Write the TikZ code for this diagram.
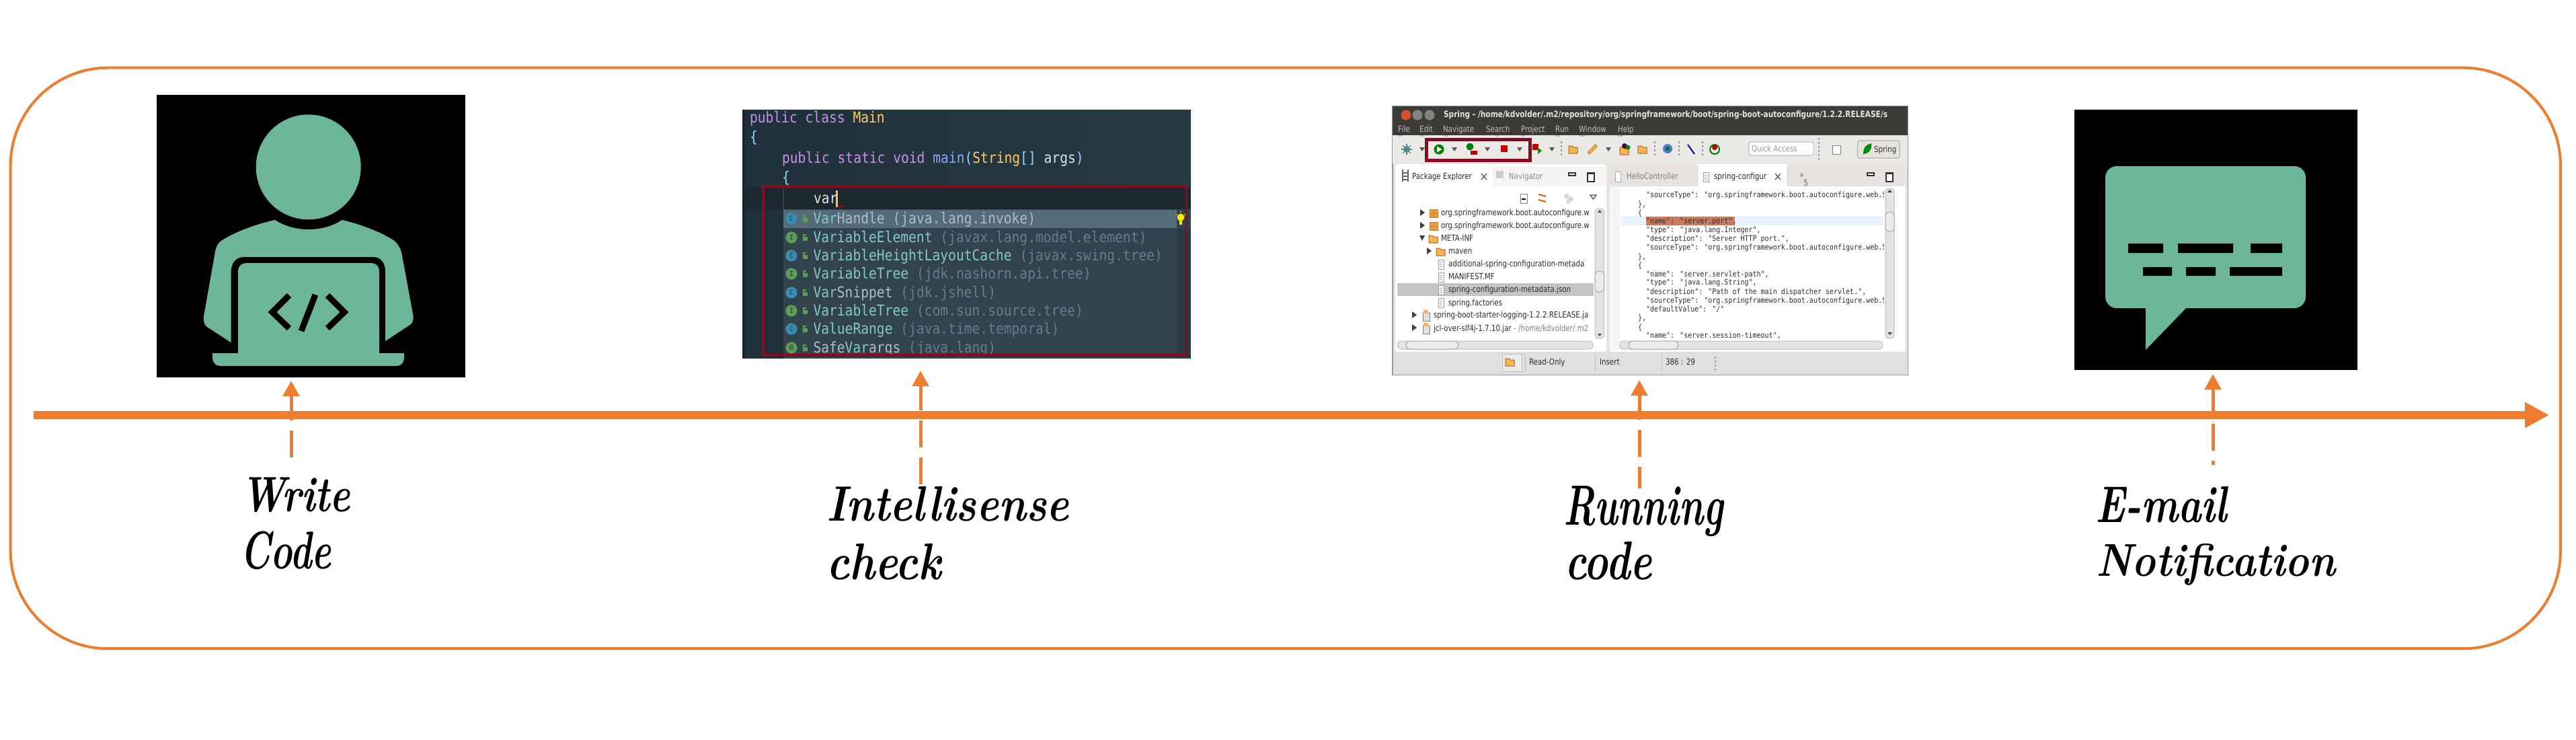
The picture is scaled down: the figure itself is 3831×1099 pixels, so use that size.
\documentclass[tikz,border=0pt]{standalone}
\usepackage{fontspec}
\usepackage{graphicx}
\usetikzlibrary{arrows.meta}
\setmainfont{Latin Modern Roman}
\newfontfamily\monof{DejaVu Sans Mono}
\newfontfamily\sansf{DejaVu Sans}
\newcommand\pxf[1]{\fontsize{\fpeval{#1*0.28453}pt}{\fpeval{#1*0.34}pt}\selectfont}
\newcounter{tn}
\newcommand\T[4][]{\stepcounter{tn}\node[tx,#1] (t\thetn) at (#2,#3) {\scalebox{1}[1.22]{#4}};}
\newcommand\TS[4][]{\stepcounter{tn}\node[tx,#1] (t\thetn) at (#2,#3) {\scalebox{1}[1.14]{#4}};}
\newlength\pxu \setlength\pxu{0.01cm}
\definecolor{orng}{HTML}{ED7D31}
\definecolor{grn}{HTML}{6DB697}
\definecolor{crim}{HTML}{8B0A22}
\definecolor{ijbg}{HTML}{20303A}
\definecolor{ijbgr}{HTML}{263A42}
\definecolor{ijpop}{HTML}{33434D}
\definecolor{ijsel}{HTML}{546B78}
\definecolor{ijline}{HTML}{1C2830}
\definecolor{kw}{HTML}{C792EA}
\definecolor{ty}{HTML}{FFCB6B}
\definecolor{fn}{HTML}{82AAFF}
\definecolor{cy}{HTML}{89DDFF}
\definecolor{wh}{HTML}{DCE6E8}
\definecolor{tl}{HTML}{80CBC4}
\definecolor{lt}{HTML}{B0BEC5}
\definecolor{dm}{HTML}{647F8C}
\definecolor{icb}{HTML}{3A8CB0}
\definecolor{icg}{HTML}{5E9D58}
\definecolor{ecl}{HTML}{E6E3DF}
\definecolor{tit}{HTML}{3C3B37}
\definecolor{txd}{HTML}{2E2E2E}
\definecolor{hlrow}{HTML}{E8F2FE}
\definecolor{hlsel}{HTML}{C97C5D}
\definecolor{wbr}{HTML}{D9512C}
\definecolor{wbg}{HTML}{85847C}
\tikzset{
  tx/.style={inner sep=0pt,outer sep=0pt,anchor=base west},
  hand/.style={inner sep=0pt,outer sep=0pt,anchor=north west},
  ij/.style={font=\monof\pxf{19.6},text=wh},
  json/.style={font=\monof\pxf{10},text=txd},
  tree/.style={font=\sansf\pxf{10.3},text=txd},
  ttl/.style={font=\sansf\bfseries\pxf{10.6},text=ecl},
  menu/.style={font=\sansf\pxf{10.3},text=ecl!85!black},
  tip/.style={-{Triangle[length=0.23cm,width=0.24cm]},draw=orng,line width=0.05cm},
  dashy/.style={tip,dash pattern=on 0.4cm off 0.15cm},
  mainarrow/.style={-{Triangle[length=0.36cm,width=0.36cm]},draw=orng,line width=0.12cm},
  icl/.style={inner sep=0pt,font=\monof\pxf{10},text=ijbg},
  sbar/.style={fill=ecl,draw=black!25,line width=0.01cm,rounded corners=0.05cm},
  sthumb/.style={fill=ecl!70!white,draw=black!35,line width=0.01cm,rounded corners=0.06cm},
  sep/.style={draw=black!40,line width=0.015cm,dash pattern=on 0.03cm off 0.03cm},
  block/.style={inner sep=0pt,outer sep=0pt,anchor=north west}
}
% small icon macros (x,y = centre)
\newcommand\fileic[2]{\fill[fill=white,draw=black!45!blue!40!white,line width=0.01cm] (#1-4,#2-7) rectangle (#1+4,#2+7);
  \foreach \d in {-3,0,3}{\draw[black!35,line width=0.01cm] (#1-2,#2+\d) -- (#1+2,#2+\d);}}
\newcommand\foldic[2]{\fill[fill=ty!70!orange,draw=brown!80!black,line width=0.01cm] (#1-7,#2-5) -- (#1-2,#2-5) -- (#1,#2-3) -- (#1+6,#2-3) -- (#1+6,#2+6) -- (#1-7,#2+6) -- cycle;}
\newcommand\pkgic[2]{\fill[fill=ty!50!orange!80!brown,draw=brown,line width=0.01cm] (#1-6,#2-6) rectangle (#1+6,#2+6);
  \draw[brown,line width=0.01cm] (#1-6,#2) -- (#1+6,#2) (#1,#2-6) -- (#1,#2+6);}
\newcommand\jaric[2]{\fill[fill=black!12,draw=black!50,line width=0.01cm] (#1-5,#2-4) rectangle (#1+5,#2+8);
  \fill[ty!70!orange] (#1-4,#2-8) rectangle (#1+3,#2-3);}
\newcommand\trir[2]{\fill[black!75] (#1-3,#2-5) -- (#1+4,#2) -- (#1-3,#2+5) -- cycle;}
\newcommand\trid[2]{\fill[black!75] (#1-4,#2-4) -- (#1+4,#2-4) -- (#1,#2+4) -- cycle;}
\newcommand\drop[2]{\fill[black!65] (#1-4,#2-3) -- (#1+4,#2-3) -- (#1,#2+3) -- cycle;}
\newcommand\popic[3]{\stepcounter{tn}\fill[#2] (1177,#1) circle (8.6);
  \node[icl] (ic\thetn) at (1177,#1) {#3};
  \fill[icg] (1194,#1-1) rectangle (1201,#1+5); \draw[icg,line width=0.012cm] (1195,#1-1) -- (1195,#1-4) -- (1199,#1-4);}
\begin{document}
\begin{tikzpicture}[x=0.01cm,y=-0.01cm]
\useasboundingbox (0,0) rectangle (3831,1099);
\fill[white] (0,0) rectangle (3831,1099);
% outer frame
\node[block,draw=orng,line width=0.04cm,rounded corners=1.45cm,minimum width=37.90cm,minimum height=8.63cm] (frame) at (15.7,100.7) {};
% ---------- person panel
\node[block,fill=black,minimum width=4.59cm,minimum height=4.20cm] (coder) at (233,141) {};
\fill[grn] (458.7,248.3) circle (78);
\fill[grn] (409,327) .. controls (385,332) and (350,344) .. (329,358) .. controls (322,363) and (320,372) .. (319,380)
  -- (303,470) .. controls (302,478) and (304,484) .. (309.5,487) -- (343.6,509) -- (343.6,403)
  .. controls (343.6,390) and (352,382) .. (362.5,382) -- (555,382) .. controls (566,382) and (573,390) .. (573,403)
  -- (573,507) -- (609.6,483) .. controls (614,480) and (615,475) .. (614.6,470) -- (598,380)
  .. controls (597,372) and (593,363) .. (585,357) .. controls (565,344) and (532,332) .. (508.5,327)
  .. controls (495,336) and (478,341) .. (458.7,341) .. controls (440,341) and (423,336) .. (409,327) -- cycle;
\fill[grn] (354,525) -- (354,403) .. controls (354,396) and (359,391) .. (366,391) -- (552,391) .. controls (559,391) and (564,396) .. (564,403)
  -- (564,525) -- (601,525) -- (601,532) .. controls (601,539) and (596,544) .. (590,544) -- (328,544) .. controls (321,544) and (316,539) .. (316,532) -- (316,525) -- cycle;
\draw[black,line width=0.09cm] (430,439) -- (405,464) -- (430,488);
\draw[black,line width=0.09cm] (469,438) -- (448,492);
\draw[black,line width=0.09cm] (487,439) -- (512,464) -- (487,488);
% ---------- IntelliJ panel
\node[block,fill=ijbg,minimum width=6.67cm,minimum height=3.70cm] (ide) at (1104,163) {};
\shade[left color=ijbg,right color=ijbgr] (1104,163) rectangle (1771,279);
\fill[ijline] (1104,279) rectangle (1771,311);
\draw[black!35!ijbg,line width=0.012cm] (1106,163) -- (1106,533);
\draw[ijpop,line width=0.012cm] (1165,279) -- (1165,311);
\fill[ijpop] (1165,311) rectangle (1771,533);
\fill[ijsel] (1165,312) rectangle (1750,339);
\fill[ijpop!85!black] (1750,339) rectangle (1771,533);
\TS[ij]{1115}{182}{\textcolor{kw}{public class }\textcolor{ty}{Main}}
\TS[ij]{1115}{211}{\textcolor{cy}{\{}}
\TS[ij]{1163}{242}{\textcolor{kw}{public static void }\textcolor{fn}{main}\textcolor{cy}{(}\textcolor{ty}{String}\textcolor{cy}{[] }\textcolor{wh}{args}\textcolor{cy}{)}}
\TS[ij]{1163}{271}{\textcolor{cy}{\{}}
\TS[ij]{1210}{302}{var}
\fill[ty!80!orange] (1243,283) rectangle (1246,308);
\draw[red!80!black,line width=0.01cm] (1247,305) -- (1249,308) -- (1251,305) -- (1253,308) -- (1255,306);
\popic{325}{icb}{C}
\popic{353}{icg}{I}
\popic{380}{icb}{C}
\popic{407}{icg}{I}
\popic{435}{icb}{C}
\popic{462}{icg}{I}
\popic{489}{icb}{C}
\popic{517}{icg}{@}
\TS[ij]{1209.5}{332}{\textcolor{tl}{Var}\textcolor{lt}{Handle (java.lang.invoke)}}
\TS[ij]{1209.5}{360}{\textcolor{tl}{VariableElement }\textcolor{dm}{(javax.lang.model.element)}}
\TS[ij]{1209.5}{387}{\textcolor{tl}{VariableHeightLayoutCache }\textcolor{dm}{(javax.swing.tree)}}
\TS[ij]{1209.5}{414}{\textcolor{tl}{VariableTree }\textcolor{dm}{(jdk.nashorn.api.tree)}}
\TS[ij]{1209.5}{442}{\textcolor{tl}{Var}\textcolor{lt}{Snippet }\textcolor{dm}{(jdk.jshell)}}
\TS[ij]{1209.5}{469}{\textcolor{tl}{VariableTree }\textcolor{dm}{(com.sun.source.tree)}}
\TS[ij]{1209.5}{496}{\textcolor{tl}{ValueRange }\textcolor{dm}{(java.time.temporal)}}
\begin{scope}
\clip (1165,505) rectangle (1771,528);
\TS[ij]{1209.5}{524}{\textcolor{lt}{Safe}\textcolor{tl}{Var}\textcolor{lt}{args }\textcolor{dm}{(java.lang)}}
\end{scope}
% bulb
\fill[yellow!90!orange] (1756,323) circle (5.5);
\fill[yellow!90!orange] (1754,327) rectangle (1758,334);
\draw[yellow!90!orange,line width=0.012cm] (1756,314) -- (1756,316) (1749,318) -- (1750,320) (1763,318) -- (1762,320);
\node[block,draw=crim,line width=0.035cm,minimum width=6.29cm,minimum height=2.51cm] (idebox) at (1135,277) {};
% ---------- Eclipse panel
\node[block,fill=ecl,draw=black!40,line width=0.012cm,minimum width=7.66cm,minimum height=3.99cm] (eclipse) at (2071,158) {};
\fill[tit] (2071,158) rectangle (2837,201);
\fill[ecl!80!white] (2071,201) rectangle (2837,243);
\fill[wbr] (2091,171) circle (7.5);
\fill[wbg] (2108,171) circle (7.5);
\fill[wbg] (2126,171) circle (7.5);
\begin{scope}
\clip (2071,158) rectangle (2812,185);
\T[ttl]{2147}{174}{Spring - /home/kdvolder/.m2/repository/org/springframework/boot/spring-boot-autoconfigure/1.2.2.RELEASE/s}
\end{scope}
\T[menu]{2079}{196}{\underline{F}ile}
\T[menu]{2111}{196}{\underline{E}dit}
\T[menu]{2146}{196}{\underline{N}avigate}
\T[menu]{2210}{196}{Se\underline{a}rch}
\T[menu]{2262}{196}{\underline{P}roject}
\T[menu]{2313}{196}{\underline{R}un}
\T[menu]{2348}{196}{\underline{W}indow}
\T[menu]{2406}{196}{\underline{H}elp}
% toolbar icons
\fill[teal!70!black!70] (2092,222) circle (5);
\foreach \a in {0,45,...,315}{\draw[teal!70!black!70,line width=0.012cm] (2092,222) -- ++(\a:8);}
\foreach \x in {2115,2163,2212,2260,2308,2392}{\drop{\x}{222}}
\node[block,draw=crim,line width=0.05cm,minimum width=1.54cm,minimum height=0.31cm] (runbox) at (2121.5,207.5) {};
\fill[green!50!black] (2140,222) circle (7.5);
\fill[white] (2137,217.5) -- (2144.5,222) -- (2137,226.5) -- cycle;
\fill[green!50!black] (2186,218) circle (5.5);
\fill[red!75!black] (2187,224) rectangle (2197,230);
\fill[red!80!black] (2232,216) rectangle (2242,226);
\fill[red!80!black] (2279,214) rectangle (2288,223);
\fill[green!60!black] (2287,219) -- (2293,224) -- (2287,229) -- cycle;
\draw[sep] (2322,210) -- (2322,233);
\foldic{2340}{222}
\fill[ty!70!orange,draw=brown,line width=0.01cm,rotate around={45:(2368,222)}] (2360,220) rectangle (2376,224);
\foldic{2416}{224}
\fill[violet!60!black] (2416,217) circle (4);
\fill[green!50!black] (2421,219) circle (3.5);
\foldic{2443}{222}
\draw[sep] (2461,210) -- (2461,233);
\fill[blue!50!teal!70!white] (2480,221) circle (7);
\fill[green!45!black] (2480,221) circle (3);
\draw[sep] (2497,210) -- (2497,233);
\draw[blue!60!black,line width=0.02cm] (2510,215) -- (2520,229);
\draw[sep] (2532,210) -- (2532,233);
\draw[green!50!black,line width=0.02cm] (2550,222) circle (7);
\fill[red!70!black] (2550,219) circle (4);
\node[block,fill=white,draw=black!25,line width=0.012cm,rounded corners=0.03cm,minimum width=0.96cm,minimum height=0.20cm] (quick) at (2601,211) {};
\T[tree,text=black!40]{2605}{225}{Quick Access}
\draw[sep] (2705,205) -- (2705,238);
\fill[white,draw=black!50,line width=0.01cm] (2725,216) rectangle (2737,229);
\node[block,fill=ecl,draw=black!30,line width=0.012cm,rounded corners=0.03cm,minimum width=0.625cm,minimum height=0.26cm] (springbtn) at (2762.5,209) {};
\fill[green!55!black] (2771,229) .. controls (2771,218) and (2776,215) .. (2783,213) .. controls (2784,222) and (2780,228) .. (2771,229) -- cycle;
\T[tree]{2787}{226}{Spring}
% panels
\node[block,fill=white,rounded corners=0.04cm,minimum width=3.14cm,minimum height=2.79cm] (leftpanel) at (2075,244) {};
\node[block,fill=white,rounded corners=0.04cm,minimum width=4.39cm,minimum height=2.79cm] (rightpanel) at (2394,244) {};
\fill[ecl,rounded corners=0.04cm] (2394,244) rectangle (2526,277);
\fill[ecl,rounded corners=0.04cm] (2657,244) rectangle (2833,277);
\fill[ecl!35!white] (2220,247) rectangle (2389,277);
\draw[black!60,line width=0.012cm] (2086,252) -- (2086,270) (2094,252) -- (2094,270) (2086,257) -- (2094,257) (2086,262) -- (2094,262) (2086,267) -- (2094,267);
\T[tree,text=txd]{2100}{266}{Package Explorer}
\draw[black!60,line width=0.015cm] (2203,258) -- (2211,267) (2203,267) -- (2211,258);
\fill[black!20] (2225,254) rectangle (2236,265);
\T[tree,text=black!45]{2244}{266}{Navigator}
\fill[white,draw=blue!25!black!35,line width=0.01cm] (2402,255) rectangle (2410,270);
\T[tree,text=black!50]{2419}{266}{HelloController}
\fileic{2537}{263}
\T[tree]{2549}{266}{spring-configur}
\draw[black!60,line width=0.015cm] (2640,258) -- (2648,267) (2640,267) -- (2648,258);
\T[tree,text=black!60]{2676}{264}{»\raisebox{-3pt}{5}}
\foreach \x in {2338,2782}{\fill[white,draw=black!80,line width=0.012cm] (\x-5,257) rectangle (\x+5,261);}
\foreach \x in {2366,2810}{\fill[white,draw=black!80,line width=0.012cm] (\x-5,257) rectangle (\x+5,270); \fill[black!80] (\x-5,257) rectangle (\x+5,259);}
\fill[white,draw=blue!40!black!50,line width=0.01cm] (2261,288) rectangle (2271,302);
\draw[blue!50!black,line width=0.012cm] (2263,296) -- (2269,296);
\draw[orange!80!black,line width=0.02cm] (2288,289) -- (2299,292) (2288,297) -- (2299,300);
\fill[black!15] (2330,292) circle (4); \fill[black!15] (2336,296) circle (4); \fill[black!15] (2332,300) circle (3);
\fill[white,draw=black!70,line width=0.012cm] (2365,290) -- (2374,290) -- (2369.5,296) -- cycle;
% tree
\fill[black!14!ecl] (2078,421) rectangle (2370,440);
\begin{scope}
\clip (2075,305) rectangle (2370,503);
\trir{2115}{316}\pkgic{2132}{317}
\T[tree]{2143}{320}{org.springframework.boot.autoconfigure.w}
\trir{2115}{335}\pkgic{2132}{336}
\T[tree]{2143}{339}{org.springframework.boot.autoconfigure.w}
\trid{2115}{354}\foldic{2132}{355}
\T[tree]{2143}{358}{META-INF}
\trir{2125}{373}\foldic{2143}{374}
\T[tree]{2154}{377}{maven}
\fileic{2143}{393}
\T[tree]{2154}{396}{additional-spring-configuration-metada}
\fileic{2143}{412}
\T[tree]{2154}{415}{MANIFEST.MF}
\fileic{2143}{431}
\T[tree]{2154}{434}{spring-configuration-metadata.json}
\fileic{2143}{450}
\T[tree]{2154}{454}{spring.factories}
\trir{2103}{468}\jaric{2121}{469}
\T[tree]{2132}{472}{spring-boot-starter-logging-1.2.2.RELEASE.ja}
\trir{2103}{487}\jaric{2121}{488}
\T[tree]{2132}{492}{jcl-over-slf4j-1.7.10.jar \textcolor{black!50}{- /home/kdvolder/.m2}}
\end{scope}
% json
\fill[black!4] (2394,277) rectangle (2409,520);
\fill[hlrow] (2411,322) rectangle (2801,335);
\fill[hlsel] (2448,322) rectangle (2580,335);
\begin{scope}
\clip (2409,279) rectangle (2801,503);
\TS[json]{2448}{293}{"sourceType": "org.springframework.boot.autoconfigure.web.S}
\TS[json]{2436}{307}{\},}
\TS[json]{2436}{320}{\{}
\TS[json]{2448}{332}{"name": "server.port",}
\TS[json]{2448}{345}{"type": "java.lang.Integer",}
\TS[json]{2448}{358}{"description": "Server HTTP port.",}
\TS[json]{2448}{371}{"sourceType": "org.springframework.boot.autoconfigure.web.S}
\TS[json]{2436}{385}{\},}
\TS[json]{2436}{398}{\{}
\TS[json]{2448}{411}{"name": "server.servlet-path",}
\TS[json]{2448}{423}{"type": "java.lang.String",}
\TS[json]{2448}{437}{"description": "Path of the main dispatcher servlet.",}
\TS[json]{2448}{450}{"sourceType": "org.springframework.boot.autoconfigure.web.S}
\TS[json]{2448}{463}{"defaultValue": "/"}
\TS[json]{2436}{476}{\},}
\TS[json]{2436}{490}{\{}
\TS[json]{2448}{502}{"name": "server.session-timeout",}
\end{scope}
% scrollbars
\path[sbar] (2372,310) rectangle (2385.5,503);
\path[sthumb] (2372,403) rectangle (2385.5,434);
\path[sbar] (2804,280) rectangle (2817,503);
\path[sthumb] (2804,315) rectangle (2817,344);
\path[sbar] (2078,507) rectangle (2369,519);
\path[sthumb] (2091,507) rectangle (2169,519);
\path[sbar] (2409,507) rectangle (2800,519);
\path[sthumb] (2422,507) rectangle (2496,519);
\fill[black!70] (2376,316) -- (2382,316) -- (2379,312) -- cycle;
\fill[black!70] (2376,496) -- (2382,496) -- (2379,500) -- cycle;
\fill[black!70] (2807,286) -- (2814,286) -- (2810.5,282) -- cycle;
\fill[black!70] (2807,494) -- (2814,494) -- (2810.5,498) -- cycle;
% status bar
\fill[black!12] (2071.5,523) rectangle (2836.5,556.5);
\fill[black!8,draw=black!25,line width=0.01cm] (2234,526) rectangle (2263,552);
\foldic{2246}{538}
\draw[black!25,line width=0.01cm] (2268,526) -- (2268,552) (2372,526) -- (2372,552) (2471,526) -- (2471,552);
\draw[sep] (2551,530) -- (2551,552);
\T[tree]{2274}{542}{Read-Only}
\T[tree]{2379}{542}{Insert}
\T[tree]{2477}{542}{386 : 29}
% ---------- Speech panel
\node[block,fill=black,minimum width=4.21cm,minimum height=3.87cm] (mail) at (3085,163) {};
\fill[grn,rounded corners=0.17cm] (3131,247) rectangle (3429,458);
\fill[grn] (3191,450) -- (3191,520) -- (3251,458) -- (3251,450) -- cycle;
\fill[black] (3165,362) rectangle (3217,376) (3239,362) rectangle (3321,376) (3347,362) rectangle (3394,376);
\fill[black] (3187,397) rectangle (3230,410) (3251,397) rectangle (3295,410) (3316,397) rectangle (3394,410);
% ---------- timeline
\coordinate (tlstart) at (50,617);
\coordinate (tlend) at (3791,617);
\draw[mainarrow] (tlstart) -- (tlend);
\coordinate (a1) at (433,680); \coordinate (b1) at (433,566);
\coordinate (a2) at (1369,720); \coordinate (b2) at (1369,551);
\coordinate (a3) at (2438,726); \coordinate (b3) at (2438,565);
\coordinate (a4) at (3291,691); \coordinate (b4) at (3291,556);
\draw[dashy] (a1) -- (b1);
\draw[dashy] (a2) -- (b2);
\draw[dashy,dash phase=0.08cm] (a3) -- (b3);
\draw[dashy,dash phase=0.34cm] (a4) -- (b4);
% ---------- labels
\node[hand] (l1a) at (358,710) {\resizebox*{163\pxu}{52\pxu}{\bfseries\itshape Write}};
\node[hand] (l1b) at (357,790) {\resizebox*{136\pxu}{57\pxu}{\bfseries\itshape Code}};
\node[hand] (l2a) at (1229,723) {\resizebox*{361\pxu}{52\pxu}{\bfseries\itshape Intellisense}};
\node[hand] (l2b) at (1229,808) {\resizebox*{171\pxu}{54\pxu}{\bfseries\itshape check}};
\node[hand] (l3a) at (2325,723) {\resizebox*{238\pxu}{75\pxu}{\bfseries\itshape Running}};
\node[hand] (l3b) at (2327,805) {\resizebox*{130\pxu}{57\pxu}{\bfseries\itshape code}};
\node[hand] (l4a) at (3116,723) {\resizebox*{196\pxu}{54\pxu}{\bfseries\itshape E-mail}};
\node[hand] (l4b) at (3117,808) {\resizebox*{356\pxu}{62\pxu}{\bfseries\itshape Notification}};
\end{tikzpicture}
\end{document}
